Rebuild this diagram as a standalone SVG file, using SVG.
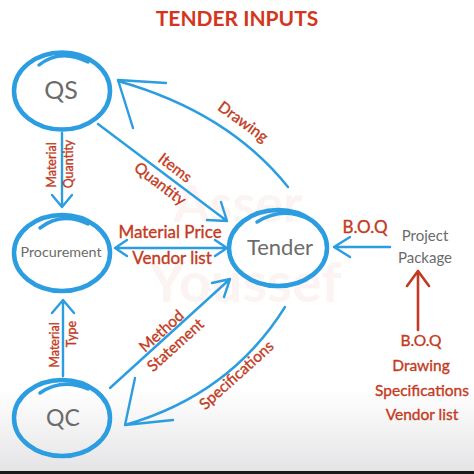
<svg xmlns="http://www.w3.org/2000/svg" width="474" height="474" viewBox="0 0 474 474">
<defs>
<linearGradient id="bg" x1="0" y1="0" x2="0" y2="1">
<stop offset="0" stop-color="#ffffff"/>
<stop offset="0.82" stop-color="#ffffff"/>
<stop offset="1" stop-color="#e4e4e6"/>
</linearGradient>
<style>
.node{fill:none;stroke:#2b9de0;stroke-width:4.5;}
.loop{fill:none;stroke:#2b9de0;stroke-width:3.5;stroke-linecap:round;}
.ln{fill:none;stroke:#2b9de0;stroke-width:2.4;stroke-linecap:round;stroke-linejoin:round;}
.rl{fill:none;stroke:#c23a22;stroke-width:2.6;stroke-linecap:round;stroke-linejoin:round;}
.nt{font-family:"Lato","Liberation Sans",sans-serif;fill:#6b6b6b;text-anchor:middle;}
.lb{font-family:"Lato","Liberation Sans",sans-serif;fill:#c33b22;stroke:#c33b22;stroke-width:0.35;text-anchor:middle;}
.wm{font-family:"Lato","Liberation Sans",sans-serif;fill:#d23a2a;opacity:0.05;text-anchor:middle;font-weight:bold;}
</style>
</defs>
<rect x="0" y="0" width="474" height="474" fill="url(#bg)"/>
<rect x="0" y="471" width="474" height="3" fill="#1a1a1a"/>
<text class="wm" x="238" y="222" font-size="52">Asser</text>
<text class="wm" x="245" y="302" font-size="56">Youssef</text>
<text x="237" y="26" font-family="Lato,'Liberation Sans',sans-serif" font-weight="bold" font-size="21" fill="#d3361c" text-anchor="middle">TENDER INPUTS</text>

<g id="qs">
<ellipse class="node" cx="62" cy="91" rx="48" ry="38.5"/>
<path class="loop" d="M39,65 Q60,48 88,62"/>
<text class="nt" x="61" y="99" font-size="25">QS</text>
</g>
<g id="procurement">
<ellipse class="node" cx="62" cy="253" rx="48" ry="38"/>
<path class="loop" d="M40,228 Q62,211 88,224"/>
<text class="nt" x="61" y="257" font-size="14.3">Procurement</text>
</g>
<g id="tender">
<ellipse class="node" cx="278" cy="248" rx="49" ry="38"/>
<path class="loop" d="M257,222 Q282,206 309,219"/>
<text class="nt" x="280" y="255" font-size="22">Tender</text>
</g>
<g id="qc">
<ellipse class="node" cx="62" cy="418" rx="48" ry="38"/>
<path class="loop" d="M40,393 Q62,378 88,389"/>
<text class="nt" x="63" y="426" font-size="23">QC</text>
</g>
<g id="project-package">
<text class="nt" x="425" y="241" font-size="15">Project</text>
<text class="nt" x="425" y="263" font-size="15">Package</text>
</g>
<g id="inputs-list">
<text class="lb" x="421" y="346" font-size="15.5">B.O.Q</text>
<text class="lb" x="421" y="371" font-size="15.5">Drawing</text>
<text class="lb" x="422" y="396" font-size="15.5">Specifications</text>
<text class="lb" x="422" y="420" font-size="15.5">Vendor list</text>
</g>

<g id="connectors">
<!-- QS -> Procurement -->
<path class="ln" d="M62,133 V206 M52,195 L62,207 L72,195"/>
<text class="lb" transform="translate(56,165) rotate(-90)" font-size="12.5">Material</text>
<text class="lb" transform="translate(73,164) rotate(-90)" font-size="12.5">Quantity</text>
<!-- QC -> Procurement -->
<path class="ln" d="M63,376 V301 M52,313 L63,300 L74,313"/>
<text class="lb" transform="translate(59,345) rotate(-90)" font-size="12.5">Material</text>
<text class="lb" transform="translate(76,334) rotate(-90)" font-size="12.5">Type</text>
<!-- QS -> Tender -->
<path class="ln" d="M98,124 L227,221 M207,220 L227,221 L221,202"/>
<text class="lb" transform="translate(172,172) rotate(37)" font-size="15.5">Items</text>
<text class="lb" transform="translate(157,188) rotate(37)" font-size="15.5">Quantity</text>
<!-- Tender -> QS (Drawing) -->
<path class="ln" d="M288,187 Q228,112 118,81 M166,83 L118,80 L133,128"/>
<text class="lb" transform="translate(240,126) rotate(36)" font-size="15.5">Drawing</text>
<!-- Procurement <-> Tender -->
<path class="ln" d="M115,248 H227 M127,240 L115,248 L127,256 M215,240 L227,248 L215,256"/>
<text class="lb" x="170" y="238" font-size="17">Material Price</text>
<text class="lb" x="172" y="264" font-size="17">Vendor list</text>
<!-- Project Package -> Tender -->
<path class="ln" d="M390,247 H334 M350,237 L334,247 L350,257"/>
<text class="lb" x="365" y="233" font-size="17">B.O.Q</text>
<!-- inputs -> Project Package -->
<path class="rl" d="M418,330 V271 M407,286 L418,271 L429,286"/>
<!-- QC -> Tender (Method Statement) -->
<path class="ln" d="M110,388 L230,279 M212,283 L230,279 L224,297"/>
<text class="lb" transform="translate(165,335) rotate(-42)" font-size="15.5">Method</text>
<text class="lb" transform="translate(179,349) rotate(-42)" font-size="15.5">Statement</text>
<!-- Tender -> QC (Specifications) -->
<path class="ln" d="M285,307 Q230,395 125,425 M135,378 L125,425 L173,420"/>
<text class="lb" transform="translate(240,379) rotate(-42)" font-size="15.5">Specifications</text>
</g>
</svg>
